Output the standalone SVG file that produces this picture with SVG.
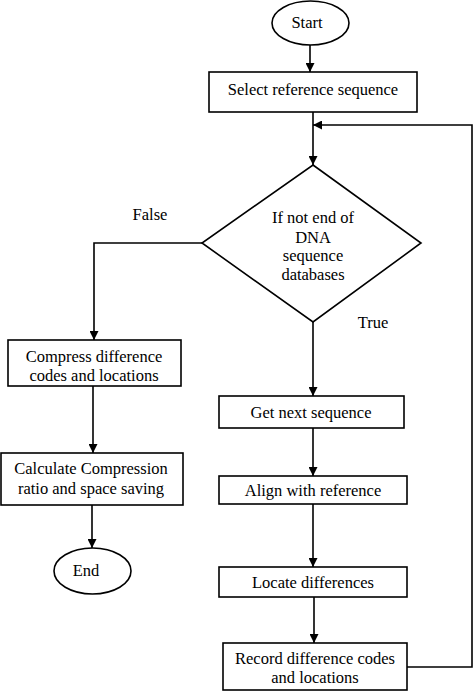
<svg xmlns="http://www.w3.org/2000/svg" width="474" height="691" viewBox="0 0 474 691">
<defs>
<style>
.s{fill:#fff;stroke:#000;stroke-width:1.6}
.c{fill:none;stroke:#000;stroke-width:1.6}
.t{font-family:'Liberation Serif','Tinos','DejaVu Serif',serif;font-size:16.5px;fill:#000;text-anchor:middle;dominant-baseline:central}
</style>
<marker id="a" viewBox="0 0 10 10" refX="10" refY="5" markerWidth="9" markerHeight="9" markerUnits="userSpaceOnUse" orient="auto">
<path d="M0,0 L10,5 L0,10 Z" fill="#000"/>
</marker>
</defs>
<rect width="474" height="691" fill="#fff"/>
<g id="connectors">
<line class="c" x1="310" y1="45" x2="310" y2="72" marker-end="url(#a)"/>
<line class="c" x1="313" y1="112" x2="313" y2="165" marker-end="url(#a)"/>
<polyline class="c" points="407,667 472,667 472,125 313,125" marker-end="url(#a)"/>
<polyline class="c" points="203,243 94,243 94,340" marker-end="url(#a)"/>
<line class="c" x1="313" y1="322" x2="313" y2="396" marker-end="url(#a)"/>
<line class="c" x1="313" y1="428" x2="313" y2="476" marker-end="url(#a)"/>
<line class="c" x1="313" y1="504" x2="313" y2="567" marker-end="url(#a)"/>
<line class="c" x1="314" y1="597" x2="314" y2="643" marker-end="url(#a)"/>
<line class="c" x1="93" y1="386" x2="93" y2="453" marker-end="url(#a)"/>
<line class="c" x1="92" y1="505" x2="92" y2="548" marker-end="url(#a)"/>
</g>
<g id="start">
<ellipse class="s" cx="310.5" cy="23" rx="38.5" ry="22"/>
<text class="t" x="307" y="22">Start</text>
</g>
<g id="select">
<rect class="s" x="209" y="72" width="208" height="40"/>
<text class="t" x="313" y="89">Select reference sequence</text>
</g>
<g id="decision">
<polygon class="s" points="313,165 421,243 313,322 202,243"/>
<text class="t" x="313" y="217">If not end of</text>
<text class="t" x="313" y="237">DNA</text>
<text class="t" x="313" y="255">sequence</text>
<text class="t" x="313" y="274">databases</text>
</g>
<g id="false-label"><text class="t" x="150" y="214">False</text></g>
<g id="true-label"><text class="t" x="373" y="322">True</text></g>
<g id="compress">
<rect class="s" x="8" y="340" width="173" height="46"/>
<text class="t" x="94" y="356">Compress difference</text>
<text class="t" x="94" y="375">codes and locations</text>
</g>
<g id="calculate">
<rect class="s" x="1" y="453" width="182" height="52"/>
<text class="t" x="91" y="468">Calculate Compression</text>
<text class="t" x="91" y="488">ratio and space saving</text>
</g>
<g id="end">
<ellipse class="s" cx="92.5" cy="571" rx="38.5" ry="23"/>
<text class="t" x="86" y="570">End</text>
</g>
<g id="getnext">
<rect class="s" x="219" y="396" width="185" height="32"/>
<text class="t" x="311" y="412">Get next sequence</text>
</g>
<g id="align">
<rect class="s" x="219" y="476" width="188" height="28"/>
<text class="t" x="313" y="490">Align with reference</text>
</g>
<g id="locate">
<rect class="s" x="219" y="567" width="188" height="30"/>
<text class="t" x="313" y="582">Locate differences</text>
</g>
<g id="record">
<rect class="s" x="223" y="643" width="184" height="47"/>
<text class="t" x="315" y="658">Record difference codes</text>
<text class="t" x="315" y="677">and locations</text>
</g>
</svg>
